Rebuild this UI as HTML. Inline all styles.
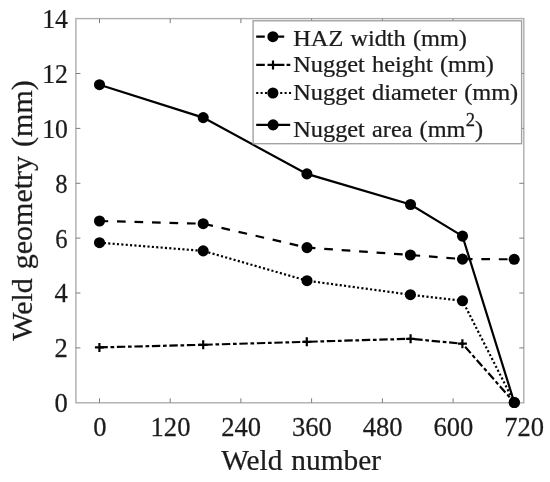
<!DOCTYPE html>
<html><head><meta charset="utf-8"><title>Weld geometry</title>
<style>
html,body{margin:0;padding:0;background:#fff;}
svg{display:block;}
text{font-family:"Liberation Serif","Times New Roman",serif;fill:#1c1c1c;stroke:#1c1c1c;stroke-width:0.25px;}
.tk{font-size:27.7px;}
.lg{font-size:22.1px;word-spacing:1px;}
.lb{font-size:30.1px;word-spacing:1.5px;}
.ln{fill:none;stroke:#000;stroke-width:2.2;}
</style></head><body>
<svg width="550" height="482" viewBox="0 0 550 482">
<rect x="0" y="0" width="550" height="482" fill="#fff"/>
<rect x="75.9" y="18.6" width="447.9" height="384.2" fill="none" stroke="#adadad" stroke-width="1.4"/>
<path d="M99.5 402.8v-4.5M99.5 18.6v4.5M170.2 402.8v-4.5M170.2 18.6v4.5M240.9 402.8v-4.5M240.9 18.6v4.5M311.6 402.8v-4.5M311.6 18.6v4.5M382.4 402.8v-4.5M382.4 18.6v4.5M453.1 402.8v-4.5M453.1 18.6v4.5M75.9 347.9h4.5M523.8 347.9h-4.5M75.9 293.0h4.5M523.8 293.0h-4.5M75.9 238.1h4.5M523.8 238.1h-4.5M75.9 183.3h4.5M523.8 183.3h-4.5M75.9 128.4h4.5M523.8 128.4h-4.5M75.9 73.5h4.5M523.8 73.5h-4.5" stroke="#7c7c7c" stroke-width="1" fill="none"/>
<text class="tk" transform="translate(99.8 435.7) scale(0.96 1)" text-anchor="middle">0</text>
<text class="tk" transform="translate(170.5 435.7) scale(0.96 1)" text-anchor="middle">120</text>
<text class="tk" transform="translate(241.2 435.7) scale(0.96 1)" text-anchor="middle">240</text>
<text class="tk" transform="translate(311.9 435.7) scale(0.96 1)" text-anchor="middle">360</text>
<text class="tk" transform="translate(382.7 435.7) scale(0.96 1)" text-anchor="middle">480</text>
<text class="tk" transform="translate(453.4 435.7) scale(0.96 1)" text-anchor="middle">600</text>
<text class="tk" transform="translate(524.1 435.7) scale(0.96 1)" text-anchor="middle">720</text>
<text class="tk" transform="translate(67.9 412.2) scale(0.96 1)" text-anchor="end">0</text>
<text class="tk" transform="translate(67.9 357.3) scale(0.96 1)" text-anchor="end">2</text>
<text class="tk" transform="translate(67.9 302.4) scale(0.96 1)" text-anchor="end">4</text>
<text class="tk" transform="translate(67.6 247.5) scale(0.89 1)" text-anchor="end">6</text>
<text class="tk" transform="translate(67.6 192.7) scale(0.89 1)" text-anchor="end">8</text>
<text class="tk" transform="translate(67.9 137.8) scale(0.93 1)" text-anchor="end">10</text>
<text class="tk" transform="translate(67.9 82.9) scale(0.93 1)" text-anchor="end">12</text>
<text class="tk" transform="translate(67.9 28.0) scale(0.93 1)" text-anchor="end">14</text>
<text class="lb" transform="translate(301.1 469.7) scale(0.976 1)" text-anchor="middle">Weld number</text>
<text class="lb" transform="translate(32.2 210.5) rotate(-90) scale(0.997 1)" text-anchor="middle">Weld geometry (mm)</text>
<polyline class="ln" points="99.5,221.0 203.2,223.7 307.0,247.6 410.4,255.0 462.5,259.1 514.2,259.3" stroke-dasharray="8.7 8.8"/>
<polyline class="ln" points="99.4,347.4 203.2,344.8 306.8,341.8 410.6,338.8 462.4,343.7 514.3,402.5" stroke-dasharray="8.4 2.7 3.7 2.7"/>
<polyline class="ln" points="99.5,242.7 203.2,250.9 307.0,280.7 410.4,294.7 462.5,300.8 514.3,402.5" stroke-dasharray="2.1 2.275"/>
<polyline class="ln" points="99.5,84.7 203.2,117.6 306.9,173.9 410.5,204.5 462.5,236.1 514.3,402.5"/>
<circle cx="99.5" cy="221" r="5.55" fill="#000"/>
<circle cx="203.2" cy="223.7" r="5.55" fill="#000"/>
<circle cx="307" cy="247.6" r="5.55" fill="#000"/>
<circle cx="410.4" cy="255" r="5.55" fill="#000"/>
<circle cx="462.5" cy="259.1" r="5.55" fill="#000"/>
<circle cx="514.2" cy="259.3" r="5.55" fill="#000"/>
<circle cx="99.5" cy="242.7" r="5.55" fill="#000"/>
<circle cx="203.2" cy="250.9" r="5.55" fill="#000"/>
<circle cx="307" cy="280.7" r="5.55" fill="#000"/>
<circle cx="410.4" cy="294.7" r="5.55" fill="#000"/>
<circle cx="462.5" cy="300.8" r="5.55" fill="#000"/>
<circle cx="514.3" cy="402.5" r="5.55" fill="#000"/>
<circle cx="99.5" cy="84.7" r="5.55" fill="#000"/>
<circle cx="203.2" cy="117.6" r="5.55" fill="#000"/>
<circle cx="306.9" cy="173.9" r="5.55" fill="#000"/>
<circle cx="410.5" cy="204.5" r="5.55" fill="#000"/>
<circle cx="462.5" cy="236.1" r="5.55" fill="#000"/>
<circle cx="514.3" cy="402.5" r="5.55" fill="#000"/>
<path d="M94.9 347.4h9M99.4 342.9v9M198.7 344.8h9M203.2 340.3v9M302.3 341.8h9M306.8 337.3v9M406.1 338.8h9M410.6 334.3v9M457.9 343.7h9M462.4 339.2v9" stroke="#000" stroke-width="2.2" fill="none"/>
<rect x="253.1" y="20.8" width="268.5" height="122.9" fill="#fff" stroke="#a0a0a0" stroke-width="1.35"/>
<path class="ln" d="M256.2 36.7h8.6M273 36.7h11.2"/>
<circle cx="272.9" cy="36.7" r="5.55"/>
<path class="ln" d="M256.2 64.9h8.6M267.5 64.9h16.9M286.6 64.9h3.7M273 60.400000000000006v9"/>
<path class="ln" d="M256.2 93.0h12M280.2 93.0h11" stroke-dasharray="2.1 2.275"/>
<circle cx="272.9" cy="93.0" r="5.55"/>
<path class="ln" d="M256.2 124.9h34"/>
<circle cx="273.1" cy="124.9" r="5.55"/>
<text class="lg" transform="translate(293.3 45.5) scale(1.1 1)" text-anchor="start">HAZ width (mm)</text>
<text class="lg" transform="translate(293.3 72.1) scale(1.1 1)" text-anchor="start">Nugget height (mm)</text>
<text class="lg" transform="translate(293.3 100.1) scale(1.1 1)" text-anchor="start">Nugget diameter (mm)</text>
<text class="lg" transform="translate(293.3 136.9) scale(1.1 1)" text-anchor="start">Nugget area (mm</text>
<text class="lg" transform="translate(465.8 125.6) scale(0.95 1)" style="font-size:19.6px">2</text>
<text class="lg" transform="translate(474.9 136.9) scale(1.1 1)" text-anchor="start">)</text>
</svg></body></html>
